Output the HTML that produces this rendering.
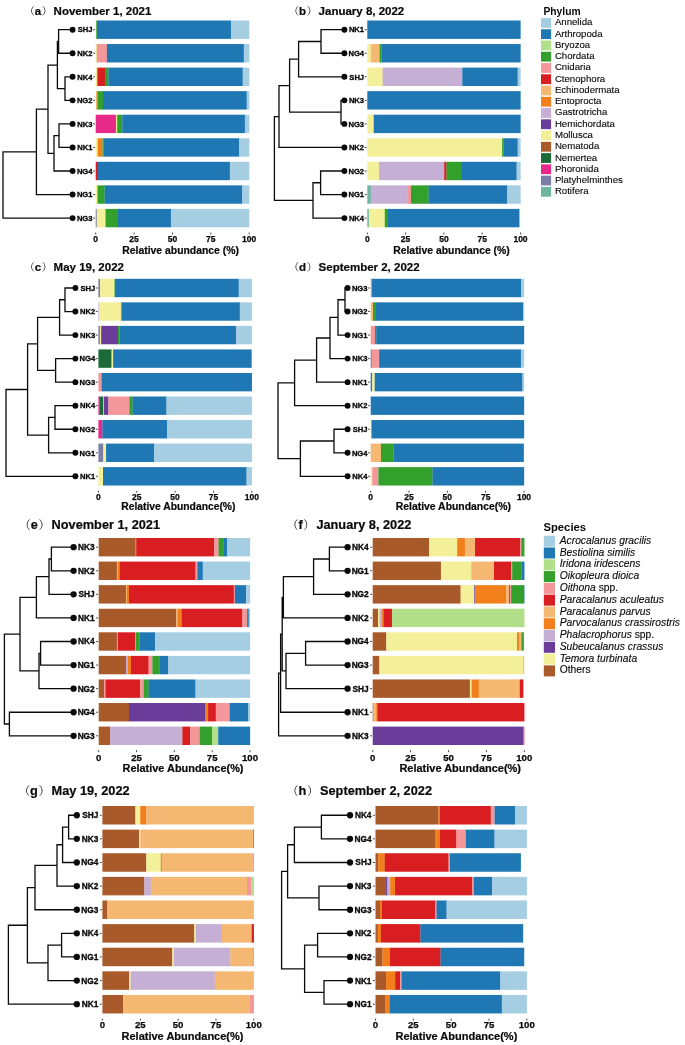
<!DOCTYPE html>
<html lang="en">
<head>
<meta charset="utf-8">
<title>Community composition and clustering</title>
<style>
html,body{margin:0;padding:0;background:#fff;}
body{width:685px;height:1045px;overflow:hidden;}
svg{display:block;font-family:"Liberation Sans", "Noto Sans CJK SC", sans-serif;fill:#0a0a0a;}
</style>
</head>
<body>
<svg width="685" height="1045" viewBox="0 0 685 1045">
<rect x="0" y="0" width="685" height="1045" fill="#ffffff"/>
<g id="panel-a">
<text y="15" font-size="11.5" font-weight="bold"><tspan x="24.46" font-size="10.35" font-family='"Liberation Serif", "Noto Serif CJK SC", "Noto Sans CJK SC", serif' font-weight="normal">（</tspan><tspan x="34.71" stroke="#000" stroke-width="0.2">a</tspan><tspan x="41.8" font-size="10.35" font-family='"Liberation Serif", "Noto Serif CJK SC", "Noto Sans CJK SC", serif' font-weight="normal">）</tspan><tspan x="53.6" stroke="#000" stroke-width="0.2">November 1, 2021</tspan></text>
<rect x="95.7" y="20.5" width="0.76" height="18.4" fill="#f4f09a"/>
<rect x="96.31" y="20.5" width="0.76" height="18.4" fill="#33a02c"/>
<rect x="96.93" y="20.5" width="134.16" height="18.4" fill="#1f78b4"/>
<rect x="230.93" y="20.5" width="18.42" height="18.4" fill="#a6cee3"/>
<rect x="95.7" y="44.05" width="1.22" height="18.4" fill="#f4f09a"/>
<rect x="96.77" y="44.05" width="10.28" height="18.4" fill="#f4979a"/>
<rect x="106.91" y="44.05" width="137.07" height="18.4" fill="#1f78b4"/>
<rect x="243.83" y="44.05" width="5.52" height="18.4" fill="#a6cee3"/>
<rect x="95.7" y="67.6" width="1.38" height="18.4" fill="#f4f09a"/>
<rect x="96.93" y="67.6" width="0.92" height="18.4" fill="#f07f1c"/>
<rect x="97.7" y="67.6" width="7.36" height="18.4" fill="#d91e22"/>
<rect x="104.91" y="67.6" width="3.68" height="18.4" fill="#33a02c"/>
<rect x="108.44" y="67.6" width="134.46" height="18.4" fill="#1f78b4"/>
<rect x="242.75" y="67.6" width="6.6" height="18.4" fill="#a6cee3"/>
<rect x="95.7" y="91.15" width="0.92" height="18.4" fill="#f4f09a"/>
<rect x="96.47" y="91.15" width="1.22" height="18.4" fill="#f07f1c"/>
<rect x="97.54" y="91.15" width="5.52" height="18.4" fill="#33a02c"/>
<rect x="102.91" y="91.15" width="143.98" height="18.4" fill="#1f78b4"/>
<rect x="246.74" y="91.15" width="2.61" height="18.4" fill="#a6cee3"/>
<rect x="95.7" y="114.7" width="20.41" height="18.4" fill="#e7298a"/>
<rect x="115.96" y="114.7" width="1.38" height="18.4" fill="#f4f09a"/>
<rect x="117.19" y="114.7" width="5.22" height="18.4" fill="#33a02c"/>
<rect x="122.26" y="114.7" width="122.8" height="18.4" fill="#1f78b4"/>
<rect x="244.9" y="114.7" width="4.45" height="18.4" fill="#a6cee3"/>
<rect x="95.7" y="138.25" width="2.15" height="18.4" fill="#f4f09a"/>
<rect x="97.7" y="138.25" width="4.91" height="18.4" fill="#f07f1c"/>
<rect x="102.45" y="138.25" width="1.07" height="18.4" fill="#33a02c"/>
<rect x="103.38" y="138.25" width="136" height="18.4" fill="#1f78b4"/>
<rect x="239.22" y="138.25" width="10.13" height="18.4" fill="#a6cee3"/>
<rect x="95.7" y="161.8" width="2.45" height="18.4" fill="#d91e22"/>
<rect x="98" y="161.8" width="132.01" height="18.4" fill="#1f78b4"/>
<rect x="229.86" y="161.8" width="19.49" height="18.4" fill="#a6cee3"/>
<rect x="95.7" y="185.35" width="1.99" height="18.4" fill="#f4f09a"/>
<rect x="97.54" y="185.35" width="7.21" height="18.4" fill="#33a02c"/>
<rect x="104.6" y="185.35" width="137.84" height="18.4" fill="#1f78b4"/>
<rect x="242.29" y="185.35" width="7.06" height="18.4" fill="#a6cee3"/>
<rect x="95.7" y="208.9" width="1.22" height="18.4" fill="#7c7ea8"/>
<rect x="96.77" y="208.9" width="8.9" height="18.4" fill="#f4f09a"/>
<rect x="105.52" y="208.9" width="12.58" height="18.4" fill="#33a02c"/>
<rect x="117.96" y="208.9" width="53.11" height="18.4" fill="#1f78b4"/>
<rect x="170.92" y="208.9" width="78.43" height="18.4" fill="#a6cee3"/>
<path d="M58.6 29.7V53.25M58.6 29.7H72.6M58.6 53.25H72.6M65 76.8V100.35M65 76.8H72.6M65 100.35H72.6M57.4 41.48V88.58M57.4 41.48H58.6M57.4 88.58H65M59 123.9V147.45M59 123.9H72.6M59 147.45H72.6M54 135.68V171M54 135.68H59M54 171H72.6M48 65.03V153.34M48 65.03H57.4M48 153.34H54M36.4 109.18V194.55M36.4 109.18H48M36.4 194.55H72.6M3 151.87V218.1M3 151.87H36.4M3 218.1H72.6" fill="none" stroke="#0a0a0a" stroke-width="1.3" stroke-linecap="square"/>
<circle cx="72.6" cy="29.7" r="2.95" fill="#0a0a0a"/>
<text x="92.5" y="32.44" font-size="7.6" font-weight="bold" text-anchor="end" stroke="#000" stroke-width="0.3">SHJ</text>
<path d="M93.1 29.7H95.1" stroke="#333" stroke-width="0.9"/>
<circle cx="72.6" cy="53.25" r="2.95" fill="#0a0a0a"/>
<text x="92.5" y="55.99" font-size="7.6" font-weight="bold" text-anchor="end" stroke="#000" stroke-width="0.3">NK2</text>
<path d="M93.1 53.25H95.1" stroke="#333" stroke-width="0.9"/>
<circle cx="72.6" cy="76.8" r="2.95" fill="#0a0a0a"/>
<text x="92.5" y="79.54" font-size="7.6" font-weight="bold" text-anchor="end" stroke="#000" stroke-width="0.3">NK4</text>
<path d="M93.1 76.8H95.1" stroke="#333" stroke-width="0.9"/>
<circle cx="72.6" cy="100.35" r="2.95" fill="#0a0a0a"/>
<text x="92.5" y="103.09" font-size="7.6" font-weight="bold" text-anchor="end" stroke="#000" stroke-width="0.3">NG2</text>
<path d="M93.1 100.35H95.1" stroke="#333" stroke-width="0.9"/>
<circle cx="72.6" cy="123.9" r="2.95" fill="#0a0a0a"/>
<text x="92.5" y="126.64" font-size="7.6" font-weight="bold" text-anchor="end" stroke="#000" stroke-width="0.3">NK3</text>
<path d="M93.1 123.9H95.1" stroke="#333" stroke-width="0.9"/>
<circle cx="72.6" cy="147.45" r="2.95" fill="#0a0a0a"/>
<text x="92.5" y="150.19" font-size="7.6" font-weight="bold" text-anchor="end" stroke="#000" stroke-width="0.3">NK1</text>
<path d="M93.1 147.45H95.1" stroke="#333" stroke-width="0.9"/>
<circle cx="72.6" cy="171" r="2.95" fill="#0a0a0a"/>
<text x="92.5" y="173.74" font-size="7.6" font-weight="bold" text-anchor="end" stroke="#000" stroke-width="0.3">NG4</text>
<path d="M93.1 171H95.1" stroke="#333" stroke-width="0.9"/>
<circle cx="72.6" cy="194.55" r="2.95" fill="#0a0a0a"/>
<text x="92.5" y="197.29" font-size="7.6" font-weight="bold" text-anchor="end" stroke="#000" stroke-width="0.3">NG1</text>
<path d="M93.1 194.55H95.1" stroke="#333" stroke-width="0.9"/>
<circle cx="72.6" cy="218.1" r="2.95" fill="#0a0a0a"/>
<text x="92.5" y="220.84" font-size="7.6" font-weight="bold" text-anchor="end" stroke="#000" stroke-width="0.3">NG3</text>
<path d="M93.1 218.1H95.1" stroke="#333" stroke-width="0.9"/>
<path d="M95.7 232.5V234.5" stroke="#333" stroke-width="0.9"/>
<text x="95.7" y="241.7" font-size="8.5" font-weight="bold" text-anchor="middle" stroke="#000" stroke-width="0.25">0</text>
<path d="M134.07 232.5V234.5" stroke="#333" stroke-width="0.9"/>
<text x="134.07" y="241.7" font-size="8.5" font-weight="bold" text-anchor="middle" stroke="#000" stroke-width="0.25">25</text>
<path d="M172.45 232.5V234.5" stroke="#333" stroke-width="0.9"/>
<text x="172.45" y="241.7" font-size="8.5" font-weight="bold" text-anchor="middle" stroke="#000" stroke-width="0.25">50</text>
<path d="M210.82 232.5V234.5" stroke="#333" stroke-width="0.9"/>
<text x="210.82" y="241.7" font-size="8.5" font-weight="bold" text-anchor="middle" stroke="#000" stroke-width="0.25">75</text>
<path d="M249.2 232.5V234.5" stroke="#333" stroke-width="0.9"/>
<text x="249.2" y="241.7" font-size="8.5" font-weight="bold" text-anchor="middle" stroke="#000" stroke-width="0.25">100</text>
<text x="122.2" y="253.7" font-size="10.3" font-weight="bold" textLength="116.8" lengthAdjust="spacingAndGlyphs" stroke="#000" stroke-width="0.2">Relative abundance (%)</text>
</g>
<g id="panel-b">
<text y="15" font-size="11.5" font-weight="bold"><tspan x="288.82" font-size="10.35" font-family='"Liberation Serif", "Noto Serif CJK SC", "Noto Sans CJK SC", serif' font-weight="normal">（</tspan><tspan x="299.07" stroke="#000" stroke-width="0.2">b</tspan><tspan x="306.8" font-size="10.35" font-family='"Liberation Serif", "Noto Serif CJK SC", "Noto Sans CJK SC", serif' font-weight="normal">）</tspan><tspan x="318.6" stroke="#000" stroke-width="0.2">January 8, 2022</tspan></text>
<rect x="367.3" y="20.5" width="153.35" height="18.4" fill="#1f78b4"/>
<rect x="367.3" y="44.05" width="3.67" height="18.4" fill="#f4f09a"/>
<rect x="370.82" y="44.05" width="0.61" height="18.4" fill="#f4979a"/>
<rect x="371.28" y="44.05" width="8.42" height="18.4" fill="#f5b872"/>
<rect x="379.56" y="44.05" width="1.99" height="18.4" fill="#33a02c"/>
<rect x="381.39" y="44.05" width="139.26" height="18.4" fill="#1f78b4"/>
<rect x="367.3" y="67.6" width="15.47" height="18.4" fill="#f4f09a"/>
<rect x="382.62" y="67.6" width="79.81" height="18.4" fill="#c6afd4"/>
<rect x="462.28" y="67.6" width="55.61" height="18.4" fill="#1f78b4"/>
<rect x="517.74" y="67.6" width="2.91" height="18.4" fill="#a6cee3"/>
<rect x="367.3" y="91.15" width="153.35" height="18.4" fill="#1f78b4"/>
<rect x="367.3" y="114.7" width="6.58" height="18.4" fill="#f4f09a"/>
<rect x="373.73" y="114.7" width="146.92" height="18.4" fill="#1f78b4"/>
<rect x="367.3" y="138.25" width="134.97" height="18.4" fill="#f4f09a"/>
<rect x="502.12" y="138.25" width="1.68" height="18.4" fill="#33a02c"/>
<rect x="503.65" y="138.25" width="14.24" height="18.4" fill="#1f78b4"/>
<rect x="517.74" y="138.25" width="2.91" height="18.4" fill="#a6cee3"/>
<rect x="367.3" y="161.8" width="11.95" height="18.4" fill="#f4f09a"/>
<rect x="379.1" y="161.8" width="65.26" height="18.4" fill="#c6afd4"/>
<rect x="444.21" y="161.8" width="2.45" height="18.4" fill="#d91e22"/>
<rect x="446.5" y="161.8" width="14.7" height="18.4" fill="#33a02c"/>
<rect x="461.06" y="161.8" width="55.76" height="18.4" fill="#1f78b4"/>
<rect x="516.67" y="161.8" width="3.98" height="18.4" fill="#a6cee3"/>
<rect x="367.3" y="185.35" width="3.67" height="18.4" fill="#6eb5a0"/>
<rect x="370.82" y="185.35" width="37.07" height="18.4" fill="#c6afd4"/>
<rect x="407.74" y="185.35" width="3.37" height="18.4" fill="#f4979a"/>
<rect x="410.96" y="185.35" width="17.77" height="18.4" fill="#33a02c"/>
<rect x="428.58" y="185.35" width="78.89" height="18.4" fill="#1f78b4"/>
<rect x="507.32" y="185.35" width="13.33" height="18.4" fill="#a6cee3"/>
<rect x="367.3" y="208.9" width="1.68" height="18.4" fill="#6eb5a0"/>
<rect x="368.83" y="208.9" width="16.08" height="18.4" fill="#f4f09a"/>
<rect x="384.76" y="208.9" width="3.37" height="18.4" fill="#33a02c"/>
<rect x="387.98" y="208.9" width="131.6" height="18.4" fill="#1f78b4"/>
<rect x="519.43" y="208.9" width="0.61" height="18.4" fill="#a6cee3"/>
<path d="M321 29.7V53.25M321 29.7H344.4M321 53.25H344.4M298.6 41.48V76.8M298.6 41.48H321M298.6 76.8H344.4M341 100.35V123.9M341 100.35H344.4M341 123.9H344.4M289.6 59.14V112.12M289.6 59.14H298.6M289.6 112.12H341M279 85.63V147.45M279 85.63H289.6M279 147.45H344.4M320.6 171V194.55M320.6 171H344.4M320.6 194.55H344.4M313 182.77V218.1M313 182.77H320.6M313 218.1H344.4M274.4 116.54V200.44M274.4 116.54H279M274.4 200.44H313" fill="none" stroke="#0a0a0a" stroke-width="1.3" stroke-linecap="square"/>
<circle cx="344.4" cy="29.7" r="2.95" fill="#0a0a0a"/>
<text x="364.1" y="32.44" font-size="7.6" font-weight="bold" text-anchor="end" stroke="#000" stroke-width="0.3">NK1</text>
<path d="M364.7 29.7H366.7" stroke="#333" stroke-width="0.9"/>
<circle cx="344.4" cy="53.25" r="2.95" fill="#0a0a0a"/>
<text x="364.1" y="55.99" font-size="7.6" font-weight="bold" text-anchor="end" stroke="#000" stroke-width="0.3">NG4</text>
<path d="M364.7 53.25H366.7" stroke="#333" stroke-width="0.9"/>
<circle cx="344.4" cy="76.8" r="2.95" fill="#0a0a0a"/>
<text x="364.1" y="79.54" font-size="7.6" font-weight="bold" text-anchor="end" stroke="#000" stroke-width="0.3">SHJ</text>
<path d="M364.7 76.8H366.7" stroke="#333" stroke-width="0.9"/>
<circle cx="344.4" cy="100.35" r="2.95" fill="#0a0a0a"/>
<text x="364.1" y="103.09" font-size="7.6" font-weight="bold" text-anchor="end" stroke="#000" stroke-width="0.3">NK3</text>
<path d="M364.7 100.35H366.7" stroke="#333" stroke-width="0.9"/>
<circle cx="344.4" cy="123.9" r="2.95" fill="#0a0a0a"/>
<text x="364.1" y="126.64" font-size="7.6" font-weight="bold" text-anchor="end" stroke="#000" stroke-width="0.3">NG3</text>
<path d="M364.7 123.9H366.7" stroke="#333" stroke-width="0.9"/>
<circle cx="344.4" cy="147.45" r="2.95" fill="#0a0a0a"/>
<text x="364.1" y="150.19" font-size="7.6" font-weight="bold" text-anchor="end" stroke="#000" stroke-width="0.3">NK2</text>
<path d="M364.7 147.45H366.7" stroke="#333" stroke-width="0.9"/>
<circle cx="344.4" cy="171" r="2.95" fill="#0a0a0a"/>
<text x="364.1" y="173.74" font-size="7.6" font-weight="bold" text-anchor="end" stroke="#000" stroke-width="0.3">NG2</text>
<path d="M364.7 171H366.7" stroke="#333" stroke-width="0.9"/>
<circle cx="344.4" cy="194.55" r="2.95" fill="#0a0a0a"/>
<text x="364.1" y="197.29" font-size="7.6" font-weight="bold" text-anchor="end" stroke="#000" stroke-width="0.3">NG1</text>
<path d="M364.7 194.55H366.7" stroke="#333" stroke-width="0.9"/>
<circle cx="344.4" cy="218.1" r="2.95" fill="#0a0a0a"/>
<text x="364.1" y="220.84" font-size="7.6" font-weight="bold" text-anchor="end" stroke="#000" stroke-width="0.3">NK4</text>
<path d="M364.7 218.1H366.7" stroke="#333" stroke-width="0.9"/>
<path d="M367.3 232.5V234.5" stroke="#333" stroke-width="0.9"/>
<text x="367.3" y="241.7" font-size="8.5" font-weight="bold" text-anchor="middle" stroke="#000" stroke-width="0.25">0</text>
<path d="M405.6 232.5V234.5" stroke="#333" stroke-width="0.9"/>
<text x="405.6" y="241.7" font-size="8.5" font-weight="bold" text-anchor="middle" stroke="#000" stroke-width="0.25">25</text>
<path d="M443.9 232.5V234.5" stroke="#333" stroke-width="0.9"/>
<text x="443.9" y="241.7" font-size="8.5" font-weight="bold" text-anchor="middle" stroke="#000" stroke-width="0.25">50</text>
<path d="M482.2 232.5V234.5" stroke="#333" stroke-width="0.9"/>
<text x="482.2" y="241.7" font-size="8.5" font-weight="bold" text-anchor="middle" stroke="#000" stroke-width="0.25">75</text>
<path d="M520.5 232.5V234.5" stroke="#333" stroke-width="0.9"/>
<text x="520.5" y="241.7" font-size="8.5" font-weight="bold" text-anchor="middle" stroke="#000" stroke-width="0.25">100</text>
<text x="393.2" y="253.7" font-size="10.3" font-weight="bold" textLength="116.6" lengthAdjust="spacingAndGlyphs" stroke="#000" stroke-width="0.2">Relative abundance (%)</text>
</g>
<g id="panel-c">
<text y="271" font-size="11.5" font-weight="bold"><tspan x="24.46" font-size="10.35" font-family='"Liberation Serif", "Noto Serif CJK SC", "Noto Sans CJK SC", serif' font-weight="normal">（</tspan><tspan x="34.71" stroke="#000" stroke-width="0.2">c</tspan><tspan x="41.8" font-size="10.35" font-family='"Liberation Serif", "Noto Serif CJK SC", "Noto Sans CJK SC", serif' font-weight="normal">）</tspan><tspan x="53.6" stroke="#000" stroke-width="0.2">May 19, 2022</tspan></text>
<rect x="98.4" y="278.8" width="0.92" height="18.4" fill="#7c7ea8"/>
<rect x="99.17" y="278.8" width="1.07" height="18.4" fill="#e7298a"/>
<rect x="100.09" y="278.8" width="14.57" height="18.4" fill="#f4f09a"/>
<rect x="114.51" y="278.8" width="0.61" height="18.4" fill="#33a02c"/>
<rect x="114.97" y="278.8" width="123.94" height="18.4" fill="#1f78b4"/>
<rect x="238.76" y="278.8" width="13.19" height="18.4" fill="#a6cee3"/>
<rect x="98.4" y="302.34" width="1.07" height="18.4" fill="#c6afd4"/>
<rect x="99.32" y="302.34" width="21.63" height="18.4" fill="#f4f09a"/>
<rect x="120.8" y="302.34" width="0.76" height="18.4" fill="#f5b872"/>
<rect x="121.41" y="302.34" width="118.57" height="18.4" fill="#1f78b4"/>
<rect x="239.83" y="302.34" width="12.12" height="18.4" fill="#a6cee3"/>
<rect x="98.4" y="325.88" width="1.68" height="18.4" fill="#7c7ea8"/>
<rect x="99.93" y="325.88" width="1.38" height="18.4" fill="#f4f09a"/>
<rect x="101.16" y="325.88" width="16.87" height="18.4" fill="#6a3d9a"/>
<rect x="117.88" y="325.88" width="1.68" height="18.4" fill="#33a02c"/>
<rect x="119.42" y="325.88" width="116.89" height="18.4" fill="#1f78b4"/>
<rect x="236.15" y="325.88" width="15.8" height="18.4" fill="#a6cee3"/>
<rect x="98.4" y="349.42" width="13.34" height="18.4" fill="#1b6a38"/>
<rect x="111.59" y="349.42" width="1.68" height="18.4" fill="#f4f09a"/>
<rect x="113.13" y="349.42" width="138.52" height="18.4" fill="#1f78b4"/>
<rect x="98.4" y="372.96" width="3.37" height="18.4" fill="#f4979a"/>
<rect x="101.62" y="372.96" width="150.33" height="18.4" fill="#1f78b4"/>
<rect x="98.4" y="396.5" width="1.22" height="18.4" fill="#e7298a"/>
<rect x="99.47" y="396.5" width="3.68" height="18.4" fill="#1b6a38"/>
<rect x="103" y="396.5" width="0.92" height="18.4" fill="#f4f09a"/>
<rect x="103.77" y="396.5" width="4.75" height="18.4" fill="#6a3d9a"/>
<rect x="108.37" y="396.5" width="21.17" height="18.4" fill="#f4979a"/>
<rect x="129.39" y="396.5" width="3.37" height="18.4" fill="#33a02c"/>
<rect x="132.61" y="396.5" width="34.05" height="18.4" fill="#1f78b4"/>
<rect x="166.51" y="396.5" width="85.44" height="18.4" fill="#a6cee3"/>
<rect x="98.4" y="420.04" width="4.14" height="18.4" fill="#e7298a"/>
<rect x="102.39" y="420.04" width="64.73" height="18.4" fill="#1f78b4"/>
<rect x="166.97" y="420.04" width="84.98" height="18.4" fill="#a6cee3"/>
<rect x="98.4" y="443.58" width="5.06" height="18.4" fill="#7c7ea8"/>
<rect x="103.31" y="443.58" width="2.91" height="18.4" fill="#f4f09a"/>
<rect x="106.07" y="443.58" width="48.32" height="18.4" fill="#1f78b4"/>
<rect x="154.24" y="443.58" width="97.71" height="18.4" fill="#a6cee3"/>
<rect x="98.4" y="467.12" width="4.75" height="18.4" fill="#f4f09a"/>
<rect x="103" y="467.12" width="143.73" height="18.4" fill="#1f78b4"/>
<rect x="246.58" y="467.12" width="5.37" height="18.4" fill="#a6cee3"/>
<path d="M65 288V311.54M65 288H75.4M65 311.54H75.4M59.6 299.77V335.08M59.6 299.77H65M59.6 335.08H75.4M55.6 358.62V382.16M55.6 358.62H75.4M55.6 382.16H75.4M37.6 317.42V370.39M37.6 317.42H59.6M37.6 370.39H55.6M55 405.7V429.24M55 405.7H75.4M55 429.24H75.4M48.6 417.47V452.78M48.6 417.47H55M48.6 452.78H75.4M27.6 343.91V435.12M27.6 343.91H37.6M27.6 435.12H48.6M6 389.52V476.32M6 389.52H27.6M6 476.32H75.4" fill="none" stroke="#0a0a0a" stroke-width="1.3" stroke-linecap="square"/>
<circle cx="75.4" cy="288" r="2.95" fill="#0a0a0a"/>
<text x="95.2" y="290.74" font-size="7.6" font-weight="bold" text-anchor="end" stroke="#000" stroke-width="0.3">SHJ</text>
<path d="M95.8 288H97.8" stroke="#333" stroke-width="0.9"/>
<circle cx="75.4" cy="311.54" r="2.95" fill="#0a0a0a"/>
<text x="95.2" y="314.28" font-size="7.6" font-weight="bold" text-anchor="end" stroke="#000" stroke-width="0.3">NK2</text>
<path d="M95.8 311.54H97.8" stroke="#333" stroke-width="0.9"/>
<circle cx="75.4" cy="335.08" r="2.95" fill="#0a0a0a"/>
<text x="95.2" y="337.82" font-size="7.6" font-weight="bold" text-anchor="end" stroke="#000" stroke-width="0.3">NK3</text>
<path d="M95.8 335.08H97.8" stroke="#333" stroke-width="0.9"/>
<circle cx="75.4" cy="358.62" r="2.95" fill="#0a0a0a"/>
<text x="95.2" y="361.36" font-size="7.6" font-weight="bold" text-anchor="end" stroke="#000" stroke-width="0.3">NG4</text>
<path d="M95.8 358.62H97.8" stroke="#333" stroke-width="0.9"/>
<circle cx="75.4" cy="382.16" r="2.95" fill="#0a0a0a"/>
<text x="95.2" y="384.9" font-size="7.6" font-weight="bold" text-anchor="end" stroke="#000" stroke-width="0.3">NG3</text>
<path d="M95.8 382.16H97.8" stroke="#333" stroke-width="0.9"/>
<circle cx="75.4" cy="405.7" r="2.95" fill="#0a0a0a"/>
<text x="95.2" y="408.44" font-size="7.6" font-weight="bold" text-anchor="end" stroke="#000" stroke-width="0.3">NK4</text>
<path d="M95.8 405.7H97.8" stroke="#333" stroke-width="0.9"/>
<circle cx="75.4" cy="429.24" r="2.95" fill="#0a0a0a"/>
<text x="95.2" y="431.98" font-size="7.6" font-weight="bold" text-anchor="end" stroke="#000" stroke-width="0.3">NG2</text>
<path d="M95.8 429.24H97.8" stroke="#333" stroke-width="0.9"/>
<circle cx="75.4" cy="452.78" r="2.95" fill="#0a0a0a"/>
<text x="95.2" y="455.52" font-size="7.6" font-weight="bold" text-anchor="end" stroke="#000" stroke-width="0.3">NG1</text>
<path d="M95.8 452.78H97.8" stroke="#333" stroke-width="0.9"/>
<circle cx="75.4" cy="476.32" r="2.95" fill="#0a0a0a"/>
<text x="95.2" y="479.06" font-size="7.6" font-weight="bold" text-anchor="end" stroke="#000" stroke-width="0.3">NK1</text>
<path d="M95.8 476.32H97.8" stroke="#333" stroke-width="0.9"/>
<path d="M98.4 490.72V492.72" stroke="#333" stroke-width="0.9"/>
<text x="98.4" y="500.1" font-size="8.5" font-weight="bold" text-anchor="middle" stroke="#000" stroke-width="0.25">0</text>
<path d="M136.75 490.72V492.72" stroke="#333" stroke-width="0.9"/>
<text x="136.75" y="500.1" font-size="8.5" font-weight="bold" text-anchor="middle" stroke="#000" stroke-width="0.25">25</text>
<path d="M175.1 490.72V492.72" stroke="#333" stroke-width="0.9"/>
<text x="175.1" y="500.1" font-size="8.5" font-weight="bold" text-anchor="middle" stroke="#000" stroke-width="0.25">50</text>
<path d="M213.45 490.72V492.72" stroke="#333" stroke-width="0.9"/>
<text x="213.45" y="500.1" font-size="8.5" font-weight="bold" text-anchor="middle" stroke="#000" stroke-width="0.25">75</text>
<path d="M251.8 490.72V492.72" stroke="#333" stroke-width="0.9"/>
<text x="251.8" y="500.1" font-size="8.5" font-weight="bold" text-anchor="middle" stroke="#000" stroke-width="0.25">100</text>
<text x="121.2" y="509.6" font-size="10.3" font-weight="bold" textLength="114.3" lengthAdjust="spacingAndGlyphs" stroke="#000" stroke-width="0.2">Relative Abundance(%)</text>
</g>
<g id="panel-d">
<text y="271" font-size="11.5" font-weight="bold"><tspan x="288.82" font-size="10.35" font-family='"Liberation Serif", "Noto Serif CJK SC", "Noto Sans CJK SC", serif' font-weight="normal">（</tspan><tspan x="299.07" stroke="#000" stroke-width="0.2">d</tspan><tspan x="306.8" font-size="10.35" font-family='"Liberation Serif", "Noto Serif CJK SC", "Noto Sans CJK SC", serif' font-weight="normal">）</tspan><tspan x="318.6" stroke="#000" stroke-width="0.2">September 2, 2022</tspan></text>
<rect x="370.7" y="278.8" width="1.38" height="18.4" fill="#f4979a"/>
<rect x="371.93" y="278.8" width="149.46" height="18.4" fill="#1f78b4"/>
<rect x="521.24" y="278.8" width="2.91" height="18.4" fill="#a6cee3"/>
<rect x="370.7" y="302.34" width="2.45" height="18.4" fill="#f5b872"/>
<rect x="373" y="302.34" width="3.06" height="18.4" fill="#33a02c"/>
<rect x="375.91" y="302.34" width="147.47" height="18.4" fill="#1f78b4"/>
<rect x="523.23" y="302.34" width="0.92" height="18.4" fill="#a6cee3"/>
<rect x="370.7" y="325.88" width="4.44" height="18.4" fill="#f4979a"/>
<rect x="374.99" y="325.88" width="1.38" height="18.4" fill="#33a02c"/>
<rect x="376.22" y="325.88" width="147.93" height="18.4" fill="#1f78b4"/>
<rect x="370.7" y="349.42" width="1.22" height="18.4" fill="#7c7ea8"/>
<rect x="371.77" y="349.42" width="7.51" height="18.4" fill="#f4979a"/>
<rect x="379.13" y="349.42" width="141.95" height="18.4" fill="#1f78b4"/>
<rect x="520.93" y="349.42" width="3.22" height="18.4" fill="#a6cee3"/>
<rect x="370.7" y="372.96" width="1.68" height="18.4" fill="#1f78b4"/>
<rect x="372.23" y="372.96" width="2.6" height="18.4" fill="#f4f09a"/>
<rect x="374.69" y="372.96" width="147.93" height="18.4" fill="#1f78b4"/>
<rect x="522.47" y="372.96" width="1.68" height="18.4" fill="#a6cee3"/>
<rect x="370.7" y="396.5" width="153.45" height="18.4" fill="#1f78b4"/>
<rect x="370.7" y="420.04" width="0.92" height="18.4" fill="#f4f09a"/>
<rect x="371.47" y="420.04" width="152.68" height="18.4" fill="#1f78b4"/>
<rect x="370.7" y="443.58" width="10.42" height="18.4" fill="#f5b872"/>
<rect x="380.97" y="443.58" width="12.57" height="18.4" fill="#33a02c"/>
<rect x="393.39" y="443.58" width="130.46" height="18.4" fill="#1f78b4"/>
<rect x="370.7" y="467.12" width="1.68" height="18.4" fill="#f4f09a"/>
<rect x="372.23" y="467.12" width="6.28" height="18.4" fill="#f4979a"/>
<rect x="378.37" y="467.12" width="54.26" height="18.4" fill="#33a02c"/>
<rect x="432.48" y="467.12" width="91.67" height="18.4" fill="#1f78b4"/>
<path d="M345 288V311.54M345 288H347.6M345 311.54H347.6M338 299.77V335.08M338 299.77H345M338 335.08H347.6M330 317.42V358.62M330 317.42H338M330 358.62H347.6M316.6 338.02V382.16M316.6 338.02H330M316.6 382.16H347.6M294.6 360.09V405.7M294.6 360.09H316.6M294.6 405.7H347.6M334 429.24V452.78M334 429.24H347.6M334 452.78H347.6M300.4 441.01V476.32M300.4 441.01H334M300.4 476.32H347.6M278 382.9V458.66M278 382.9H294.6M278 458.66H300.4" fill="none" stroke="#0a0a0a" stroke-width="1.3" stroke-linecap="square"/>
<circle cx="347.6" cy="288" r="2.95" fill="#0a0a0a"/>
<text x="367.5" y="290.74" font-size="7.6" font-weight="bold" text-anchor="end" stroke="#000" stroke-width="0.3">NG3</text>
<path d="M368.1 288H370.1" stroke="#333" stroke-width="0.9"/>
<circle cx="347.6" cy="311.54" r="2.95" fill="#0a0a0a"/>
<text x="367.5" y="314.28" font-size="7.6" font-weight="bold" text-anchor="end" stroke="#000" stroke-width="0.3">NG2</text>
<path d="M368.1 311.54H370.1" stroke="#333" stroke-width="0.9"/>
<circle cx="347.6" cy="335.08" r="2.95" fill="#0a0a0a"/>
<text x="367.5" y="337.82" font-size="7.6" font-weight="bold" text-anchor="end" stroke="#000" stroke-width="0.3">NG1</text>
<path d="M368.1 335.08H370.1" stroke="#333" stroke-width="0.9"/>
<circle cx="347.6" cy="358.62" r="2.95" fill="#0a0a0a"/>
<text x="367.5" y="361.36" font-size="7.6" font-weight="bold" text-anchor="end" stroke="#000" stroke-width="0.3">NK3</text>
<path d="M368.1 358.62H370.1" stroke="#333" stroke-width="0.9"/>
<circle cx="347.6" cy="382.16" r="2.95" fill="#0a0a0a"/>
<text x="367.5" y="384.9" font-size="7.6" font-weight="bold" text-anchor="end" stroke="#000" stroke-width="0.3">NK1</text>
<path d="M368.1 382.16H370.1" stroke="#333" stroke-width="0.9"/>
<circle cx="347.6" cy="405.7" r="2.95" fill="#0a0a0a"/>
<text x="367.5" y="408.44" font-size="7.6" font-weight="bold" text-anchor="end" stroke="#000" stroke-width="0.3">NK2</text>
<path d="M368.1 405.7H370.1" stroke="#333" stroke-width="0.9"/>
<circle cx="347.6" cy="429.24" r="2.95" fill="#0a0a0a"/>
<text x="367.5" y="431.98" font-size="7.6" font-weight="bold" text-anchor="end" stroke="#000" stroke-width="0.3">SHJ</text>
<path d="M368.1 429.24H370.1" stroke="#333" stroke-width="0.9"/>
<circle cx="347.6" cy="452.78" r="2.95" fill="#0a0a0a"/>
<text x="367.5" y="455.52" font-size="7.6" font-weight="bold" text-anchor="end" stroke="#000" stroke-width="0.3">NG4</text>
<path d="M368.1 452.78H370.1" stroke="#333" stroke-width="0.9"/>
<circle cx="347.6" cy="476.32" r="2.95" fill="#0a0a0a"/>
<text x="367.5" y="479.06" font-size="7.6" font-weight="bold" text-anchor="end" stroke="#000" stroke-width="0.3">NK4</text>
<path d="M368.1 476.32H370.1" stroke="#333" stroke-width="0.9"/>
<path d="M370.7 490.72V492.72" stroke="#333" stroke-width="0.9"/>
<text x="370.7" y="500.1" font-size="8.5" font-weight="bold" text-anchor="middle" stroke="#000" stroke-width="0.25">0</text>
<path d="M409.02 490.72V492.72" stroke="#333" stroke-width="0.9"/>
<text x="409.02" y="500.1" font-size="8.5" font-weight="bold" text-anchor="middle" stroke="#000" stroke-width="0.25">25</text>
<path d="M447.35 490.72V492.72" stroke="#333" stroke-width="0.9"/>
<text x="447.35" y="500.1" font-size="8.5" font-weight="bold" text-anchor="middle" stroke="#000" stroke-width="0.25">50</text>
<path d="M485.68 490.72V492.72" stroke="#333" stroke-width="0.9"/>
<text x="485.68" y="500.1" font-size="8.5" font-weight="bold" text-anchor="middle" stroke="#000" stroke-width="0.25">75</text>
<path d="M524 490.72V492.72" stroke="#333" stroke-width="0.9"/>
<text x="524" y="500.1" font-size="8.5" font-weight="bold" text-anchor="middle" stroke="#000" stroke-width="0.25">100</text>
<text x="395.7" y="509.6" font-size="10.3" font-weight="bold" textLength="115.3" lengthAdjust="spacingAndGlyphs" stroke="#000" stroke-width="0.2">Relative Abundance(%)</text>
</g>
<g id="panel-e">
<text y="529.4" font-size="12.76" font-weight="bold"><tspan x="19.36" font-size="11.48" font-family='"Liberation Serif", "Noto Serif CJK SC", "Noto Sans CJK SC", serif' font-weight="normal">（</tspan><tspan x="30.75" stroke="#000" stroke-width="0.2">e</tspan><tspan x="38.54" font-size="11.48" font-family='"Liberation Serif", "Noto Serif CJK SC", "Noto Sans CJK SC", serif' font-weight="normal">）</tspan><tspan x="51.6" stroke="#000" stroke-width="0.2">November 1, 2021</tspan></text>
<rect x="98.7" y="538" width="36.46" height="18.4" fill="#a95a2a"/>
<rect x="135.01" y="538" width="1.36" height="18.4" fill="#f07f1c"/>
<rect x="136.22" y="538" width="77.92" height="18.4" fill="#d91e22"/>
<rect x="213.99" y="538" width="4.69" height="18.4" fill="#f4979a"/>
<rect x="218.53" y="538" width="4.84" height="18.4" fill="#33a02c"/>
<rect x="223.22" y="538" width="3.93" height="18.4" fill="#1f78b4"/>
<rect x="227" y="538" width="23.15" height="18.4" fill="#a6cee3"/>
<rect x="98.7" y="561.58" width="18.31" height="18.4" fill="#a95a2a"/>
<rect x="116.86" y="561.58" width="0.91" height="18.4" fill="#f5b872"/>
<rect x="117.61" y="561.58" width="2.42" height="18.4" fill="#f07f1c"/>
<rect x="119.88" y="561.58" width="75.8" height="18.4" fill="#d91e22"/>
<rect x="195.53" y="561.58" width="1.97" height="18.4" fill="#f4979a"/>
<rect x="197.35" y="561.58" width="5.6" height="18.4" fill="#1f78b4"/>
<rect x="202.79" y="561.58" width="47.36" height="18.4" fill="#a6cee3"/>
<rect x="98.7" y="585.15" width="27.38" height="18.4" fill="#a95a2a"/>
<rect x="125.93" y="585.15" width="0.91" height="18.4" fill="#f5b872"/>
<rect x="126.69" y="585.15" width="2.42" height="18.4" fill="#f07f1c"/>
<rect x="128.96" y="585.15" width="105" height="18.4" fill="#d91e22"/>
<rect x="233.81" y="585.15" width="1.21" height="18.4" fill="#f4979a"/>
<rect x="234.87" y="585.15" width="11.35" height="18.4" fill="#1f78b4"/>
<rect x="246.07" y="585.15" width="4.08" height="18.4" fill="#a6cee3"/>
<rect x="98.7" y="608.73" width="77.77" height="18.4" fill="#a95a2a"/>
<rect x="176.32" y="608.73" width="1.21" height="18.4" fill="#f5b872"/>
<rect x="177.38" y="608.73" width="4.39" height="18.4" fill="#f07f1c"/>
<rect x="181.61" y="608.73" width="60.97" height="18.4" fill="#d91e22"/>
<rect x="242.44" y="608.73" width="4.69" height="18.4" fill="#f4979a"/>
<rect x="246.97" y="608.73" width="1.21" height="18.4" fill="#33a02c"/>
<rect x="248.03" y="608.73" width="0.91" height="18.4" fill="#1f78b4"/>
<rect x="248.79" y="608.73" width="1.36" height="18.4" fill="#a6cee3"/>
<rect x="98.7" y="632.3" width="18.31" height="18.4" fill="#a95a2a"/>
<rect x="116.86" y="632.3" width="1.21" height="18.4" fill="#f4979a"/>
<rect x="117.92" y="632.3" width="17.25" height="18.4" fill="#d91e22"/>
<rect x="135.01" y="632.3" width="1.06" height="18.4" fill="#f4979a"/>
<rect x="135.92" y="632.3" width="3.78" height="18.4" fill="#33a02c"/>
<rect x="139.55" y="632.3" width="15.73" height="18.4" fill="#1f78b4"/>
<rect x="155.13" y="632.3" width="95.02" height="18.4" fill="#a6cee3"/>
<rect x="98.7" y="655.88" width="27.38" height="18.4" fill="#a95a2a"/>
<rect x="125.93" y="655.88" width="1.66" height="18.4" fill="#c6afd4"/>
<rect x="127.45" y="655.88" width="3.63" height="18.4" fill="#f07f1c"/>
<rect x="130.93" y="655.88" width="17.85" height="18.4" fill="#d91e22"/>
<rect x="148.63" y="655.88" width="3.93" height="18.4" fill="#f4979a"/>
<rect x="152.41" y="655.88" width="6.96" height="18.4" fill="#33a02c"/>
<rect x="159.22" y="655.88" width="9.23" height="18.4" fill="#1f78b4"/>
<rect x="168.3" y="655.88" width="81.85" height="18.4" fill="#a6cee3"/>
<rect x="98.7" y="679.45" width="5.45" height="18.4" fill="#a95a2a"/>
<rect x="104" y="679.45" width="1.66" height="18.4" fill="#f4979a"/>
<rect x="105.51" y="679.45" width="34.8" height="18.4" fill="#d91e22"/>
<rect x="140.16" y="679.45" width="3.63" height="18.4" fill="#f4979a"/>
<rect x="143.64" y="679.45" width="5.14" height="18.4" fill="#33a02c"/>
<rect x="148.63" y="679.45" width="47.05" height="18.4" fill="#1f78b4"/>
<rect x="195.53" y="679.45" width="54.62" height="18.4" fill="#a6cee3"/>
<rect x="98.7" y="703.02" width="30.41" height="18.4" fill="#a95a2a"/>
<rect x="128.96" y="703.02" width="76.71" height="18.4" fill="#6a3d9a"/>
<rect x="205.52" y="703.02" width="2.72" height="18.4" fill="#f07f1c"/>
<rect x="208.09" y="703.02" width="7.87" height="18.4" fill="#d91e22"/>
<rect x="215.81" y="703.02" width="14.07" height="18.4" fill="#f4979a"/>
<rect x="229.73" y="703.02" width="18.76" height="18.4" fill="#1f78b4"/>
<rect x="248.34" y="703.02" width="1.81" height="18.4" fill="#a6cee3"/>
<rect x="98.7" y="726.6" width="11.65" height="18.4" fill="#a95a2a"/>
<rect x="110.2" y="726.6" width="72.32" height="18.4" fill="#c6afd4"/>
<rect x="182.37" y="726.6" width="7.87" height="18.4" fill="#d91e22"/>
<rect x="190.09" y="726.6" width="9.83" height="18.4" fill="#f4979a"/>
<rect x="199.77" y="726.6" width="12.41" height="18.4" fill="#33a02c"/>
<rect x="212.02" y="726.6" width="6.35" height="18.4" fill="#b2df8a"/>
<rect x="218.23" y="726.6" width="31.92" height="18.4" fill="#1f78b4"/>
<path d="M51.4 547.2V570.78M51.4 547.2H73.6M51.4 570.78H73.6M49 558.99V594.35M49 558.99H51.4M49 594.35H73.6M36.4 576.67V617.93M36.4 576.67H49M36.4 617.93H73.6M40.6 641.5V665.08M40.6 641.5H73.6M40.6 665.08H73.6M39 653.29V688.65M39 653.29H40.6M39 688.65H73.6M20 597.3V670.97M20 597.3H36.4M20 670.97H39M9.4 712.23V735.8M9.4 712.23H73.6M9.4 735.8H73.6M4.4 634.13V724.01M4.4 634.13H20M4.4 724.01H9.4" fill="none" stroke="#0a0a0a" stroke-width="1.3" stroke-linecap="square"/>
<circle cx="73.6" cy="547.2" r="3.15" fill="#0a0a0a"/>
<text x="94.7" y="550.19" font-size="8.3" font-weight="bold" text-anchor="end" stroke="#000" stroke-width="0.3">NK3</text>
<path d="M96.1 547.2H98.1" stroke="#333" stroke-width="0.9"/>
<circle cx="73.6" cy="570.78" r="3.15" fill="#0a0a0a"/>
<text x="94.7" y="573.76" font-size="8.3" font-weight="bold" text-anchor="end" stroke="#000" stroke-width="0.3">NK2</text>
<path d="M96.1 570.78H98.1" stroke="#333" stroke-width="0.9"/>
<circle cx="73.6" cy="594.35" r="3.15" fill="#0a0a0a"/>
<text x="94.7" y="597.34" font-size="8.3" font-weight="bold" text-anchor="end" stroke="#000" stroke-width="0.3">SHJ</text>
<path d="M96.1 594.35H98.1" stroke="#333" stroke-width="0.9"/>
<circle cx="73.6" cy="617.93" r="3.15" fill="#0a0a0a"/>
<text x="94.7" y="620.91" font-size="8.3" font-weight="bold" text-anchor="end" stroke="#000" stroke-width="0.3">NK1</text>
<path d="M96.1 617.93H98.1" stroke="#333" stroke-width="0.9"/>
<circle cx="73.6" cy="641.5" r="3.15" fill="#0a0a0a"/>
<text x="94.7" y="644.49" font-size="8.3" font-weight="bold" text-anchor="end" stroke="#000" stroke-width="0.3">NK4</text>
<path d="M96.1 641.5H98.1" stroke="#333" stroke-width="0.9"/>
<circle cx="73.6" cy="665.08" r="3.15" fill="#0a0a0a"/>
<text x="94.7" y="668.06" font-size="8.3" font-weight="bold" text-anchor="end" stroke="#000" stroke-width="0.3">NG1</text>
<path d="M96.1 665.08H98.1" stroke="#333" stroke-width="0.9"/>
<circle cx="73.6" cy="688.65" r="3.15" fill="#0a0a0a"/>
<text x="94.7" y="691.64" font-size="8.3" font-weight="bold" text-anchor="end" stroke="#000" stroke-width="0.3">NG2</text>
<path d="M96.1 688.65H98.1" stroke="#333" stroke-width="0.9"/>
<circle cx="73.6" cy="712.23" r="3.15" fill="#0a0a0a"/>
<text x="94.7" y="715.21" font-size="8.3" font-weight="bold" text-anchor="end" stroke="#000" stroke-width="0.3">NG4</text>
<path d="M96.1 712.23H98.1" stroke="#333" stroke-width="0.9"/>
<circle cx="73.6" cy="735.8" r="3.15" fill="#0a0a0a"/>
<text x="94.7" y="738.79" font-size="8.3" font-weight="bold" text-anchor="end" stroke="#000" stroke-width="0.3">NG3</text>
<path d="M96.1 735.8H98.1" stroke="#333" stroke-width="0.9"/>
<path d="M98.7 750.2V752.2" stroke="#333" stroke-width="0.9"/>
<text x="98.7" y="760.5" font-size="9.6" font-weight="bold" text-anchor="middle" stroke="#000" stroke-width="0.25">0</text>
<path d="M136.53 750.2V752.2" stroke="#333" stroke-width="0.9"/>
<text x="136.53" y="760.5" font-size="9.6" font-weight="bold" text-anchor="middle" stroke="#000" stroke-width="0.25">25</text>
<path d="M174.35 750.2V752.2" stroke="#333" stroke-width="0.9"/>
<text x="174.35" y="760.5" font-size="9.6" font-weight="bold" text-anchor="middle" stroke="#000" stroke-width="0.25">50</text>
<path d="M212.18 750.2V752.2" stroke="#333" stroke-width="0.9"/>
<text x="212.18" y="760.5" font-size="9.6" font-weight="bold" text-anchor="middle" stroke="#000" stroke-width="0.25">75</text>
<path d="M250 750.2V752.2" stroke="#333" stroke-width="0.9"/>
<text x="250" y="760.5" font-size="9.6" font-weight="bold" text-anchor="middle" stroke="#000" stroke-width="0.25">100</text>
<text x="122.5" y="771.5" font-size="10.3" font-weight="bold" textLength="121" lengthAdjust="spacingAndGlyphs" stroke="#000" stroke-width="0.2">Relative Abundance(%)</text>
</g>
<g id="panel-f">
<text y="529.4" font-size="12.76" font-weight="bold"><tspan x="287.01" font-size="11.48" font-family='"Liberation Serif", "Noto Serif CJK SC", "Noto Sans CJK SC", serif' font-weight="normal">（</tspan><tspan x="298.39" stroke="#000" stroke-width="0.2">f</tspan><tspan x="303.34" font-size="11.48" font-family='"Liberation Serif", "Noto Serif CJK SC", "Noto Sans CJK SC", serif' font-weight="normal">）</tspan><tspan x="316.4" stroke="#000" stroke-width="0.2">January 8, 2022</tspan></text>
<rect x="372.7" y="538" width="56.55" height="18.4" fill="#a95a2a"/>
<rect x="429.1" y="538" width="28.2" height="18.4" fill="#f4f09a"/>
<rect x="457.14" y="538" width="7.88" height="18.4" fill="#f07f1c"/>
<rect x="464.87" y="538" width="10.31" height="18.4" fill="#f5b872"/>
<rect x="475.03" y="538" width="45.18" height="18.4" fill="#d91e22"/>
<rect x="520.06" y="538" width="1.36" height="18.4" fill="#f4979a"/>
<rect x="521.27" y="538" width="3.18" height="18.4" fill="#33a02c"/>
<rect x="372.7" y="561.58" width="68.37" height="18.4" fill="#a95a2a"/>
<rect x="440.92" y="561.58" width="30.47" height="18.4" fill="#f4f09a"/>
<rect x="471.24" y="561.58" width="22.89" height="18.4" fill="#f5b872"/>
<rect x="493.98" y="561.58" width="17.28" height="18.4" fill="#d91e22"/>
<rect x="511.11" y="561.58" width="1.21" height="18.4" fill="#f4979a"/>
<rect x="512.17" y="561.58" width="9.55" height="18.4" fill="#33a02c"/>
<rect x="521.57" y="561.58" width="2.88" height="18.4" fill="#1f78b4"/>
<rect x="372.7" y="585.15" width="88.08" height="18.4" fill="#a95a2a"/>
<rect x="460.63" y="585.15" width="13.79" height="18.4" fill="#f4f09a"/>
<rect x="474.27" y="585.15" width="1.21" height="18.4" fill="#6a3d9a"/>
<rect x="475.33" y="585.15" width="30.92" height="18.4" fill="#f07f1c"/>
<rect x="506.11" y="585.15" width="3.18" height="18.4" fill="#f5b872"/>
<rect x="509.14" y="585.15" width="1.21" height="18.4" fill="#d91e22"/>
<rect x="510.2" y="585.15" width="1.06" height="18.4" fill="#f4979a"/>
<rect x="511.11" y="585.15" width="12.13" height="18.4" fill="#33a02c"/>
<rect x="523.09" y="585.15" width="1.36" height="18.4" fill="#1f78b4"/>
<rect x="372.7" y="608.73" width="5.46" height="18.4" fill="#a95a2a"/>
<rect x="378.01" y="608.73" width="1.67" height="18.4" fill="#f4f09a"/>
<rect x="379.52" y="608.73" width="2.58" height="18.4" fill="#c6afd4"/>
<rect x="381.95" y="608.73" width="1.67" height="18.4" fill="#f07f1c"/>
<rect x="383.46" y="608.73" width="8.64" height="18.4" fill="#d91e22"/>
<rect x="391.95" y="608.73" width="132.5" height="18.4" fill="#b2df8a"/>
<rect x="372.7" y="632.3" width="13.79" height="18.4" fill="#a95a2a"/>
<rect x="386.34" y="632.3" width="130.83" height="18.4" fill="#f4f09a"/>
<rect x="517.02" y="632.3" width="2.42" height="18.4" fill="#f07f1c"/>
<rect x="519.3" y="632.3" width="2.42" height="18.4" fill="#f5b872"/>
<rect x="521.57" y="632.3" width="0.6" height="18.4" fill="#d91e22"/>
<rect x="522.03" y="632.3" width="1.82" height="18.4" fill="#33a02c"/>
<rect x="372.7" y="655.88" width="6.82" height="18.4" fill="#a95a2a"/>
<rect x="379.37" y="655.88" width="143.87" height="18.4" fill="#f4f09a"/>
<rect x="523.09" y="655.88" width="1.06" height="18.4" fill="#f5b872"/>
<rect x="372.7" y="679.45" width="97.33" height="18.4" fill="#a95a2a"/>
<rect x="469.88" y="679.45" width="1.82" height="18.4" fill="#f4f09a"/>
<rect x="471.54" y="679.45" width="7.43" height="18.4" fill="#f07f1c"/>
<rect x="478.82" y="679.45" width="41.08" height="18.4" fill="#f5b872"/>
<rect x="519.75" y="679.45" width="3.64" height="18.4" fill="#d91e22"/>
<rect x="372.7" y="703.02" width="0.91" height="18.4" fill="#a95a2a"/>
<rect x="373.46" y="703.02" width="2.88" height="18.4" fill="#f5b872"/>
<rect x="376.19" y="703.02" width="1.36" height="18.4" fill="#f07f1c"/>
<rect x="377.4" y="703.02" width="147.05" height="18.4" fill="#d91e22"/>
<rect x="372.7" y="726.6" width="150.69" height="18.4" fill="#6a3d9a"/>
<rect x="523.24" y="726.6" width="0.6" height="18.4" fill="#f07f1c"/>
<rect x="523.69" y="726.6" width="0.6" height="18.4" fill="#d91e22"/>
<path d="M329.4 547.2V570.78M329.4 547.2H347.6M329.4 570.78H347.6M313.6 558.99V594.35M313.6 558.99H329.4M313.6 594.35H347.6M283.4 576.67V617.93M283.4 576.67H313.6M283.4 617.93H347.6M305.6 641.5V665.08M305.6 641.5H347.6M305.6 665.08H347.6M286 653.29V688.65M286 653.29H305.6M286 688.65H347.6M282.2 597.3V670.97M282.2 597.3H283.4M282.2 670.97H286M280.6 634.13V712.23M280.6 634.13H282.2M280.6 712.23H347.6M278.6 673.18V735.8M278.6 673.18H280.6M278.6 735.8H347.6" fill="none" stroke="#0a0a0a" stroke-width="1.3" stroke-linecap="square"/>
<circle cx="347.6" cy="547.2" r="3.15" fill="#0a0a0a"/>
<text x="368.7" y="550.19" font-size="8.3" font-weight="bold" text-anchor="end" stroke="#000" stroke-width="0.3">NK4</text>
<path d="M370.1 547.2H372.1" stroke="#333" stroke-width="0.9"/>
<circle cx="347.6" cy="570.78" r="3.15" fill="#0a0a0a"/>
<text x="368.7" y="573.76" font-size="8.3" font-weight="bold" text-anchor="end" stroke="#000" stroke-width="0.3">NG1</text>
<path d="M370.1 570.78H372.1" stroke="#333" stroke-width="0.9"/>
<circle cx="347.6" cy="594.35" r="3.15" fill="#0a0a0a"/>
<text x="368.7" y="597.34" font-size="8.3" font-weight="bold" text-anchor="end" stroke="#000" stroke-width="0.3">NG2</text>
<path d="M370.1 594.35H372.1" stroke="#333" stroke-width="0.9"/>
<circle cx="347.6" cy="617.93" r="3.15" fill="#0a0a0a"/>
<text x="368.7" y="620.91" font-size="8.3" font-weight="bold" text-anchor="end" stroke="#000" stroke-width="0.3">NK2</text>
<path d="M370.1 617.93H372.1" stroke="#333" stroke-width="0.9"/>
<circle cx="347.6" cy="641.5" r="3.15" fill="#0a0a0a"/>
<text x="368.7" y="644.49" font-size="8.3" font-weight="bold" text-anchor="end" stroke="#000" stroke-width="0.3">NG4</text>
<path d="M370.1 641.5H372.1" stroke="#333" stroke-width="0.9"/>
<circle cx="347.6" cy="665.08" r="3.15" fill="#0a0a0a"/>
<text x="368.7" y="668.06" font-size="8.3" font-weight="bold" text-anchor="end" stroke="#000" stroke-width="0.3">NG3</text>
<path d="M370.1 665.08H372.1" stroke="#333" stroke-width="0.9"/>
<circle cx="347.6" cy="688.65" r="3.15" fill="#0a0a0a"/>
<text x="368.7" y="691.64" font-size="8.3" font-weight="bold" text-anchor="end" stroke="#000" stroke-width="0.3">SHJ</text>
<path d="M370.1 688.65H372.1" stroke="#333" stroke-width="0.9"/>
<circle cx="347.6" cy="712.23" r="3.15" fill="#0a0a0a"/>
<text x="368.7" y="715.21" font-size="8.3" font-weight="bold" text-anchor="end" stroke="#000" stroke-width="0.3">NK1</text>
<path d="M370.1 712.23H372.1" stroke="#333" stroke-width="0.9"/>
<circle cx="347.6" cy="735.8" r="3.15" fill="#0a0a0a"/>
<text x="368.7" y="738.79" font-size="8.3" font-weight="bold" text-anchor="end" stroke="#000" stroke-width="0.3">NK3</text>
<path d="M370.1 735.8H372.1" stroke="#333" stroke-width="0.9"/>
<path d="M372.7 750.2V752.2" stroke="#333" stroke-width="0.9"/>
<text x="372.7" y="760.5" font-size="9.6" font-weight="bold" text-anchor="middle" stroke="#000" stroke-width="0.25">0</text>
<path d="M410.6 750.2V752.2" stroke="#333" stroke-width="0.9"/>
<text x="410.6" y="760.5" font-size="9.6" font-weight="bold" text-anchor="middle" stroke="#000" stroke-width="0.25">25</text>
<path d="M448.5 750.2V752.2" stroke="#333" stroke-width="0.9"/>
<text x="448.5" y="760.5" font-size="9.6" font-weight="bold" text-anchor="middle" stroke="#000" stroke-width="0.25">50</text>
<path d="M486.4 750.2V752.2" stroke="#333" stroke-width="0.9"/>
<text x="486.4" y="760.5" font-size="9.6" font-weight="bold" text-anchor="middle" stroke="#000" stroke-width="0.25">75</text>
<path d="M524.3 750.2V752.2" stroke="#333" stroke-width="0.9"/>
<text x="524.3" y="760.5" font-size="9.6" font-weight="bold" text-anchor="middle" stroke="#000" stroke-width="0.25">100</text>
<text x="399.4" y="771.5" font-size="10.3" font-weight="bold" textLength="121.6" lengthAdjust="spacingAndGlyphs" stroke="#000" stroke-width="0.2">Relative Abundance(%)</text>
</g>
<g id="panel-g">
<text y="795" font-size="12.76" font-weight="bold"><tspan x="18.66" font-size="11.48" font-family='"Liberation Serif", "Noto Serif CJK SC", "Noto Sans CJK SC", serif' font-weight="normal">（</tspan><tspan x="30.04" stroke="#000" stroke-width="0.2">g</tspan><tspan x="38.54" font-size="11.48" font-family='"Liberation Serif", "Noto Serif CJK SC", "Noto Sans CJK SC", serif' font-weight="normal">）</tspan><tspan x="51.6" stroke="#000" stroke-width="0.2">May 19, 2022</tspan></text>
<rect x="102.4" y="806" width="33.16" height="18.5" fill="#a95a2a"/>
<rect x="135.41" y="806" width="4.99" height="18.5" fill="#f4f09a"/>
<rect x="140.25" y="806" width="6.21" height="18.5" fill="#f07f1c"/>
<rect x="146.31" y="806" width="107.64" height="18.5" fill="#f5b872"/>
<rect x="102.4" y="829.62" width="36.94" height="18.5" fill="#a95a2a"/>
<rect x="139.19" y="829.62" width="1.21" height="18.5" fill="#f4f09a"/>
<rect x="140.25" y="829.62" width="113.09" height="18.5" fill="#f5b872"/>
<rect x="253.19" y="829.62" width="0.76" height="18.5" fill="#33a02c"/>
<rect x="102.4" y="853.24" width="44.06" height="18.5" fill="#a95a2a"/>
<rect x="146.31" y="853.24" width="14.68" height="18.5" fill="#f4f09a"/>
<rect x="160.84" y="853.24" width="0.91" height="18.5" fill="#a95a2a"/>
<rect x="161.6" y="853.24" width="91.29" height="18.5" fill="#f5b872"/>
<rect x="252.74" y="853.24" width="1.21" height="18.5" fill="#f4979a"/>
<rect x="102.4" y="876.86" width="42.09" height="18.5" fill="#a95a2a"/>
<rect x="144.34" y="876.86" width="6.66" height="18.5" fill="#c6afd4"/>
<rect x="150.85" y="876.86" width="96.29" height="18.5" fill="#f5b872"/>
<rect x="246.99" y="876.86" width="4.24" height="18.5" fill="#f4979a"/>
<rect x="251.07" y="876.86" width="2.88" height="18.5" fill="#b2df8a"/>
<rect x="102.4" y="900.48" width="5.15" height="18.5" fill="#a95a2a"/>
<rect x="107.4" y="900.48" width="146.55" height="18.5" fill="#f5b872"/>
<rect x="102.4" y="924.1" width="92.05" height="18.5" fill="#a95a2a"/>
<rect x="194.3" y="924.1" width="1.66" height="18.5" fill="#f4f09a"/>
<rect x="195.81" y="924.1" width="26.19" height="18.5" fill="#c6afd4"/>
<rect x="221.85" y="924.1" width="29.98" height="18.5" fill="#f5b872"/>
<rect x="251.68" y="924.1" width="2.27" height="18.5" fill="#d91e22"/>
<rect x="102.4" y="947.72" width="70.1" height="18.5" fill="#a95a2a"/>
<rect x="172.35" y="947.72" width="1.66" height="18.5" fill="#f4f09a"/>
<rect x="173.86" y="947.72" width="56.62" height="18.5" fill="#c6afd4"/>
<rect x="230.33" y="947.72" width="22.71" height="18.5" fill="#f5b872"/>
<rect x="252.89" y="947.72" width="1.06" height="18.5" fill="#f4979a"/>
<rect x="102.4" y="971.34" width="26.95" height="18.5" fill="#a95a2a"/>
<rect x="129.2" y="971.34" width="1.51" height="18.5" fill="#f4f09a"/>
<rect x="130.56" y="971.34" width="84.33" height="18.5" fill="#c6afd4"/>
<rect x="214.74" y="971.34" width="39.21" height="18.5" fill="#f5b872"/>
<rect x="102.4" y="994.96" width="20.89" height="18.5" fill="#a95a2a"/>
<rect x="123.14" y="994.96" width="126.57" height="18.5" fill="#f5b872"/>
<rect x="249.56" y="994.96" width="4.39" height="18.5" fill="#f4979a"/>
<path d="M68.6 815.25V838.87M68.6 815.25H76.8M68.6 838.87H76.8M62.6 827.06V862.49M62.6 827.06H68.6M62.6 862.49H76.8M57 844.77V886.11M57 844.77H62.6M57 886.11H76.8M35 865.44V909.73M35 865.44H57M35 909.73H76.8M61.6 933.35V956.97M61.6 933.35H76.8M61.6 956.97H76.8M48 945.16V980.59M48 945.16H61.6M48 980.59H76.8M27.4 887.59V962.88M27.4 887.59H35M27.4 962.88H48M8.4 925.23V1004.21M8.4 925.23H27.4M8.4 1004.21H76.8" fill="none" stroke="#0a0a0a" stroke-width="1.3" stroke-linecap="square"/>
<circle cx="76.8" cy="815.25" r="3.15" fill="#0a0a0a"/>
<text x="98.4" y="818.24" font-size="8.3" font-weight="bold" text-anchor="end" stroke="#000" stroke-width="0.3">SHJ</text>
<path d="M99.8 815.25H101.8" stroke="#333" stroke-width="0.9"/>
<circle cx="76.8" cy="838.87" r="3.15" fill="#0a0a0a"/>
<text x="98.4" y="841.86" font-size="8.3" font-weight="bold" text-anchor="end" stroke="#000" stroke-width="0.3">NK3</text>
<path d="M99.8 838.87H101.8" stroke="#333" stroke-width="0.9"/>
<circle cx="76.8" cy="862.49" r="3.15" fill="#0a0a0a"/>
<text x="98.4" y="865.48" font-size="8.3" font-weight="bold" text-anchor="end" stroke="#000" stroke-width="0.3">NG4</text>
<path d="M99.8 862.49H101.8" stroke="#333" stroke-width="0.9"/>
<circle cx="76.8" cy="886.11" r="3.15" fill="#0a0a0a"/>
<text x="98.4" y="889.1" font-size="8.3" font-weight="bold" text-anchor="end" stroke="#000" stroke-width="0.3">NK2</text>
<path d="M99.8 886.11H101.8" stroke="#333" stroke-width="0.9"/>
<circle cx="76.8" cy="909.73" r="3.15" fill="#0a0a0a"/>
<text x="98.4" y="912.72" font-size="8.3" font-weight="bold" text-anchor="end" stroke="#000" stroke-width="0.3">NG3</text>
<path d="M99.8 909.73H101.8" stroke="#333" stroke-width="0.9"/>
<circle cx="76.8" cy="933.35" r="3.15" fill="#0a0a0a"/>
<text x="98.4" y="936.34" font-size="8.3" font-weight="bold" text-anchor="end" stroke="#000" stroke-width="0.3">NK4</text>
<path d="M99.8 933.35H101.8" stroke="#333" stroke-width="0.9"/>
<circle cx="76.8" cy="956.97" r="3.15" fill="#0a0a0a"/>
<text x="98.4" y="959.96" font-size="8.3" font-weight="bold" text-anchor="end" stroke="#000" stroke-width="0.3">NG1</text>
<path d="M99.8 956.97H101.8" stroke="#333" stroke-width="0.9"/>
<circle cx="76.8" cy="980.59" r="3.15" fill="#0a0a0a"/>
<text x="98.4" y="983.58" font-size="8.3" font-weight="bold" text-anchor="end" stroke="#000" stroke-width="0.3">NG2</text>
<path d="M99.8 980.59H101.8" stroke="#333" stroke-width="0.9"/>
<circle cx="76.8" cy="1004.21" r="3.15" fill="#0a0a0a"/>
<text x="98.4" y="1007.2" font-size="8.3" font-weight="bold" text-anchor="end" stroke="#000" stroke-width="0.3">NK1</text>
<path d="M99.8 1004.21H101.8" stroke="#333" stroke-width="0.9"/>
<path d="M102.4 1018.66V1020.66" stroke="#333" stroke-width="0.9"/>
<text x="102.4" y="1028.3" font-size="9.6" font-weight="bold" text-anchor="middle" stroke="#000" stroke-width="0.25">0</text>
<path d="M140.25 1018.66V1020.66" stroke="#333" stroke-width="0.9"/>
<text x="140.25" y="1028.3" font-size="9.6" font-weight="bold" text-anchor="middle" stroke="#000" stroke-width="0.25">25</text>
<path d="M178.1 1018.66V1020.66" stroke="#333" stroke-width="0.9"/>
<text x="178.1" y="1028.3" font-size="9.6" font-weight="bold" text-anchor="middle" stroke="#000" stroke-width="0.25">50</text>
<path d="M215.95 1018.66V1020.66" stroke="#333" stroke-width="0.9"/>
<text x="215.95" y="1028.3" font-size="9.6" font-weight="bold" text-anchor="middle" stroke="#000" stroke-width="0.25">75</text>
<path d="M253.8 1018.66V1020.66" stroke="#333" stroke-width="0.9"/>
<text x="253.8" y="1028.3" font-size="9.6" font-weight="bold" text-anchor="middle" stroke="#000" stroke-width="0.25">100</text>
<text x="121.5" y="1039.6" font-size="10.3" font-weight="bold" textLength="122" lengthAdjust="spacingAndGlyphs" stroke="#000" stroke-width="0.2">Relative Abundance(%)</text>
</g>
<g id="panel-h">
<text y="795" font-size="12.76" font-weight="bold"><tspan x="287.06" font-size="11.48" font-family='"Liberation Serif", "Noto Serif CJK SC", "Noto Sans CJK SC", serif' font-weight="normal">（</tspan><tspan x="298.44" stroke="#000" stroke-width="0.2">h</tspan><tspan x="306.94" font-size="11.48" font-family='"Liberation Serif", "Noto Serif CJK SC", "Noto Sans CJK SC", serif' font-weight="normal">）</tspan><tspan x="320" stroke="#000" stroke-width="0.2">September 2, 2022</tspan></text>
<rect x="375.5" y="806" width="63.09" height="18.5" fill="#a95a2a"/>
<rect x="438.44" y="806" width="1.66" height="18.5" fill="#f07f1c"/>
<rect x="439.95" y="806" width="50.99" height="18.5" fill="#d91e22"/>
<rect x="490.79" y="806" width="3.93" height="18.5" fill="#f4979a"/>
<rect x="494.57" y="806" width="20.58" height="18.5" fill="#1f78b4"/>
<rect x="515" y="806" width="11.95" height="18.5" fill="#a6cee3"/>
<rect x="375.5" y="829.62" width="59.61" height="18.5" fill="#a95a2a"/>
<rect x="434.96" y="829.62" width="5.14" height="18.5" fill="#f07f1c"/>
<rect x="439.95" y="829.62" width="16.64" height="18.5" fill="#d91e22"/>
<rect x="456.45" y="829.62" width="9.53" height="18.5" fill="#f4979a"/>
<rect x="465.83" y="829.62" width="28.9" height="18.5" fill="#1f78b4"/>
<rect x="494.57" y="829.62" width="32.38" height="18.5" fill="#a6cee3"/>
<rect x="375.5" y="853.24" width="2.87" height="18.5" fill="#a95a2a"/>
<rect x="378.22" y="853.24" width="6.66" height="18.5" fill="#f07f1c"/>
<rect x="384.73" y="853.24" width="64" height="18.5" fill="#d91e22"/>
<rect x="448.58" y="853.24" width="1.51" height="18.5" fill="#f4979a"/>
<rect x="449.94" y="853.24" width="70.96" height="18.5" fill="#1f78b4"/>
<rect x="375.5" y="876.86" width="10.74" height="18.5" fill="#a95a2a"/>
<rect x="386.09" y="876.86" width="1.51" height="18.5" fill="#6a3d9a"/>
<rect x="387.45" y="876.86" width="2.87" height="18.5" fill="#c6afd4"/>
<rect x="390.18" y="876.86" width="4.99" height="18.5" fill="#f07f1c"/>
<rect x="395.02" y="876.86" width="77.46" height="18.5" fill="#d91e22"/>
<rect x="472.33" y="876.86" width="1.51" height="18.5" fill="#f4979a"/>
<rect x="473.69" y="876.86" width="18.46" height="18.5" fill="#1f78b4"/>
<rect x="492" y="876.86" width="34.95" height="18.5" fill="#a6cee3"/>
<rect x="375.5" y="900.48" width="4.69" height="18.5" fill="#a95a2a"/>
<rect x="380.04" y="900.48" width="1.81" height="18.5" fill="#f07f1c"/>
<rect x="381.7" y="900.48" width="53.86" height="18.5" fill="#d91e22"/>
<rect x="435.41" y="900.48" width="1.21" height="18.5" fill="#f4979a"/>
<rect x="436.47" y="900.48" width="10.29" height="18.5" fill="#1f78b4"/>
<rect x="446.61" y="900.48" width="80.34" height="18.5" fill="#a6cee3"/>
<rect x="375.5" y="924.1" width="2.42" height="18.5" fill="#a95a2a"/>
<rect x="377.77" y="924.1" width="3.33" height="18.5" fill="#f07f1c"/>
<rect x="380.95" y="924.1" width="39.64" height="18.5" fill="#d91e22"/>
<rect x="420.44" y="924.1" width="102.73" height="18.5" fill="#1f78b4"/>
<rect x="375.5" y="947.72" width="7.11" height="18.5" fill="#a95a2a"/>
<rect x="382.46" y="947.72" width="7.71" height="18.5" fill="#f07f1c"/>
<rect x="390.02" y="947.72" width="50.68" height="18.5" fill="#d91e22"/>
<rect x="440.56" y="947.72" width="83.67" height="18.5" fill="#1f78b4"/>
<rect x="375.5" y="971.34" width="10.74" height="18.5" fill="#a95a2a"/>
<rect x="386.09" y="971.34" width="9.23" height="18.5" fill="#f07f1c"/>
<rect x="395.17" y="971.34" width="5.14" height="18.5" fill="#d91e22"/>
<rect x="400.16" y="971.34" width="1.51" height="18.5" fill="#f4979a"/>
<rect x="401.52" y="971.34" width="98.95" height="18.5" fill="#1f78b4"/>
<rect x="500.32" y="971.34" width="26.63" height="18.5" fill="#a6cee3"/>
<rect x="375.5" y="994.96" width="9.68" height="18.5" fill="#a95a2a"/>
<rect x="385.03" y="994.96" width="4.84" height="18.5" fill="#f07f1c"/>
<rect x="389.72" y="994.96" width="112.26" height="18.5" fill="#1f78b4"/>
<rect x="501.84" y="994.96" width="25.11" height="18.5" fill="#a6cee3"/>
<path d="M321.4 815.25V838.87M321.4 815.25H350M321.4 838.87H350M294.4 827.06V862.49M294.4 827.06H321.4M294.4 862.49H350M319 886.11V909.73M319 886.11H350M319 909.73H350M287.6 844.77V897.92M287.6 844.77H294.4M287.6 897.92H319M317.6 933.35V956.97M317.6 933.35H350M317.6 956.97H350M324 980.59V1004.21M324 980.59H350M324 1004.21H350M304.6 945.16V992.4M304.6 945.16H317.6M304.6 992.4H324M281.6 871.35V968.78M281.6 871.35H287.6M281.6 968.78H304.6" fill="none" stroke="#0a0a0a" stroke-width="1.3" stroke-linecap="square"/>
<circle cx="350" cy="815.25" r="3.15" fill="#0a0a0a"/>
<text x="371.5" y="818.24" font-size="8.3" font-weight="bold" text-anchor="end" stroke="#000" stroke-width="0.3">NK4</text>
<path d="M372.9 815.25H374.9" stroke="#333" stroke-width="0.9"/>
<circle cx="350" cy="838.87" r="3.15" fill="#0a0a0a"/>
<text x="371.5" y="841.86" font-size="8.3" font-weight="bold" text-anchor="end" stroke="#000" stroke-width="0.3">NG4</text>
<path d="M372.9 838.87H374.9" stroke="#333" stroke-width="0.9"/>
<circle cx="350" cy="862.49" r="3.15" fill="#0a0a0a"/>
<text x="371.5" y="865.48" font-size="8.3" font-weight="bold" text-anchor="end" stroke="#000" stroke-width="0.3">SHJ</text>
<path d="M372.9 862.49H374.9" stroke="#333" stroke-width="0.9"/>
<circle cx="350" cy="886.11" r="3.15" fill="#0a0a0a"/>
<text x="371.5" y="889.1" font-size="8.3" font-weight="bold" text-anchor="end" stroke="#000" stroke-width="0.3">NK3</text>
<path d="M372.9 886.11H374.9" stroke="#333" stroke-width="0.9"/>
<circle cx="350" cy="909.73" r="3.15" fill="#0a0a0a"/>
<text x="371.5" y="912.72" font-size="8.3" font-weight="bold" text-anchor="end" stroke="#000" stroke-width="0.3">NG3</text>
<path d="M372.9 909.73H374.9" stroke="#333" stroke-width="0.9"/>
<circle cx="350" cy="933.35" r="3.15" fill="#0a0a0a"/>
<text x="371.5" y="936.34" font-size="8.3" font-weight="bold" text-anchor="end" stroke="#000" stroke-width="0.3">NK2</text>
<path d="M372.9 933.35H374.9" stroke="#333" stroke-width="0.9"/>
<circle cx="350" cy="956.97" r="3.15" fill="#0a0a0a"/>
<text x="371.5" y="959.96" font-size="8.3" font-weight="bold" text-anchor="end" stroke="#000" stroke-width="0.3">NG2</text>
<path d="M372.9 956.97H374.9" stroke="#333" stroke-width="0.9"/>
<circle cx="350" cy="980.59" r="3.15" fill="#0a0a0a"/>
<text x="371.5" y="983.58" font-size="8.3" font-weight="bold" text-anchor="end" stroke="#000" stroke-width="0.3">NK1</text>
<path d="M372.9 980.59H374.9" stroke="#333" stroke-width="0.9"/>
<circle cx="350" cy="1004.21" r="3.15" fill="#0a0a0a"/>
<text x="371.5" y="1007.2" font-size="8.3" font-weight="bold" text-anchor="end" stroke="#000" stroke-width="0.3">NG1</text>
<path d="M372.9 1004.21H374.9" stroke="#333" stroke-width="0.9"/>
<path d="M375.5 1018.66V1020.66" stroke="#333" stroke-width="0.9"/>
<text x="375.5" y="1028.3" font-size="9.6" font-weight="bold" text-anchor="middle" stroke="#000" stroke-width="0.25">0</text>
<path d="M413.32 1018.66V1020.66" stroke="#333" stroke-width="0.9"/>
<text x="413.32" y="1028.3" font-size="9.6" font-weight="bold" text-anchor="middle" stroke="#000" stroke-width="0.25">25</text>
<path d="M451.15 1018.66V1020.66" stroke="#333" stroke-width="0.9"/>
<text x="451.15" y="1028.3" font-size="9.6" font-weight="bold" text-anchor="middle" stroke="#000" stroke-width="0.25">50</text>
<path d="M488.97 1018.66V1020.66" stroke="#333" stroke-width="0.9"/>
<text x="488.97" y="1028.3" font-size="9.6" font-weight="bold" text-anchor="middle" stroke="#000" stroke-width="0.25">75</text>
<path d="M526.8 1018.66V1020.66" stroke="#333" stroke-width="0.9"/>
<text x="526.8" y="1028.3" font-size="9.6" font-weight="bold" text-anchor="middle" stroke="#000" stroke-width="0.25">100</text>
<text x="395.5" y="1039.6" font-size="10.3" font-weight="bold" textLength="121.8" lengthAdjust="spacingAndGlyphs" stroke="#000" stroke-width="0.2">Relative Abundance(%)</text>
</g>
<g id="legends">
<text x="543.4" y="14.6" font-size="10.3" font-weight="bold">Phylum</text>
<rect x="541" y="18" width="10.1" height="9.8" fill="#a6cee3"/>
<text x="554.9" y="25.4" font-size="9.65" stroke="#000" stroke-width="0.12">Annelida</text>
<rect x="541" y="29.26" width="10.1" height="9.8" fill="#1f78b4"/>
<text x="554.9" y="36.66" font-size="9.65" stroke="#000" stroke-width="0.12">Arthropoda</text>
<rect x="541" y="40.52" width="10.1" height="9.8" fill="#b2df8a"/>
<text x="554.9" y="47.92" font-size="9.65" stroke="#000" stroke-width="0.12">Bryozoa</text>
<rect x="541" y="51.78" width="10.1" height="9.8" fill="#33a02c"/>
<text x="554.9" y="59.18" font-size="9.65" stroke="#000" stroke-width="0.12">Chordata</text>
<rect x="541" y="63.04" width="10.1" height="9.8" fill="#f4979a"/>
<text x="554.9" y="70.44" font-size="9.65" stroke="#000" stroke-width="0.12">Cnidaria</text>
<rect x="541" y="74.3" width="10.1" height="9.8" fill="#d91e22"/>
<text x="554.9" y="81.7" font-size="9.65" stroke="#000" stroke-width="0.12">Ctenophora</text>
<rect x="541" y="85.56" width="10.1" height="9.8" fill="#f5b872"/>
<text x="554.9" y="92.96" font-size="9.65" stroke="#000" stroke-width="0.12">Echinodermata</text>
<rect x="541" y="96.82" width="10.1" height="9.8" fill="#f07f1c"/>
<text x="554.9" y="104.22" font-size="9.65" stroke="#000" stroke-width="0.12">Entoprocta</text>
<rect x="541" y="108.08" width="10.1" height="9.8" fill="#c6afd4"/>
<text x="554.9" y="115.48" font-size="9.65" stroke="#000" stroke-width="0.12">Gastrotricha</text>
<rect x="541" y="119.34" width="10.1" height="9.8" fill="#6a3d9a"/>
<text x="554.9" y="126.74" font-size="9.65" stroke="#000" stroke-width="0.12">Hemichordata</text>
<rect x="541" y="130.6" width="10.1" height="9.8" fill="#f4f09a"/>
<text x="554.9" y="138" font-size="9.65" stroke="#000" stroke-width="0.12">Mollusca</text>
<rect x="541" y="141.86" width="10.1" height="9.8" fill="#a95a2a"/>
<text x="554.9" y="149.26" font-size="9.65" stroke="#000" stroke-width="0.12">Nematoda</text>
<rect x="541" y="153.12" width="10.1" height="9.8" fill="#1b6a38"/>
<text x="554.9" y="160.52" font-size="9.65" stroke="#000" stroke-width="0.12">Nemertea</text>
<rect x="541" y="164.38" width="10.1" height="9.8" fill="#e7298a"/>
<text x="554.9" y="171.78" font-size="9.65" stroke="#000" stroke-width="0.12">Phoronida</text>
<rect x="541" y="175.64" width="10.1" height="9.8" fill="#7c7ea8"/>
<text x="554.9" y="183.04" font-size="9.65" stroke="#000" stroke-width="0.12">Platyhelminthes</text>
<rect x="541" y="186.9" width="10.1" height="9.8" fill="#6eb5a0"/>
<text x="554.9" y="194.3" font-size="9.65" stroke="#000" stroke-width="0.12">Rotifera</text>
<text x="543.4" y="530.8" font-size="11.3" font-weight="bold">Species</text>
<rect x="543.8" y="535.7" width="11.2" height="11.0" fill="#a6cee3"/>
<text x="559.7" y="543.8" font-size="10.3" stroke="#000" stroke-width="0.12"><tspan font-style="italic">Acrocalanus gracilis</tspan></text>
<rect x="543.8" y="547.49" width="11.2" height="11.0" fill="#1f78b4"/>
<text x="559.7" y="555.59" font-size="10.3" stroke="#000" stroke-width="0.12"><tspan font-style="italic">Bestiolina similis</tspan></text>
<rect x="543.8" y="559.28" width="11.2" height="11.0" fill="#b2df8a"/>
<text x="559.7" y="567.38" font-size="10.3" stroke="#000" stroke-width="0.12"><tspan font-style="italic">Iridona iridescens</tspan></text>
<rect x="543.8" y="571.07" width="11.2" height="11.0" fill="#33a02c"/>
<text x="559.7" y="579.17" font-size="10.3" stroke="#000" stroke-width="0.12"><tspan font-style="italic">Oikopleura dioica</tspan></text>
<rect x="543.8" y="582.86" width="11.2" height="11.0" fill="#f4979a"/>
<text x="559.7" y="590.96" font-size="10.3" stroke="#000" stroke-width="0.12"><tspan font-style="italic">Oithona</tspan> spp.</text>
<rect x="543.8" y="594.65" width="11.2" height="11.0" fill="#d91e22"/>
<text x="559.7" y="602.75" font-size="10.3" stroke="#000" stroke-width="0.12"><tspan font-style="italic">Paracalanus aculeatus</tspan></text>
<rect x="543.8" y="606.44" width="11.2" height="11.0" fill="#f5b872"/>
<text x="559.7" y="614.54" font-size="10.3" stroke="#000" stroke-width="0.12"><tspan font-style="italic">Paracalanus parvus</tspan></text>
<rect x="543.8" y="618.23" width="11.2" height="11.0" fill="#f07f1c"/>
<text x="559.7" y="626.33" font-size="10.3" stroke="#000" stroke-width="0.12"><tspan font-style="italic">Parvocalanus crassirostris</tspan></text>
<rect x="543.8" y="630.02" width="11.2" height="11.0" fill="#c6afd4"/>
<text x="559.7" y="638.12" font-size="10.3" stroke="#000" stroke-width="0.12"><tspan font-style="italic">Phalacrophorus</tspan> spp.</text>
<rect x="543.8" y="641.81" width="11.2" height="11.0" fill="#6a3d9a"/>
<text x="559.7" y="649.91" font-size="10.3" stroke="#000" stroke-width="0.12"><tspan font-style="italic">Subeucalanus crassus</tspan></text>
<rect x="543.8" y="653.6" width="11.2" height="11.0" fill="#f4f09a"/>
<text x="559.7" y="661.7" font-size="10.3" stroke="#000" stroke-width="0.12"><tspan font-style="italic">Temora turbinata</tspan></text>
<rect x="543.8" y="665.39" width="11.2" height="11.0" fill="#a95a2a"/>
<text x="559.7" y="673.49" font-size="10.3" stroke="#000" stroke-width="0.12"><tspan font-style="italic"></tspan>Others</text>
</g>
</svg>
</body>
</html>
